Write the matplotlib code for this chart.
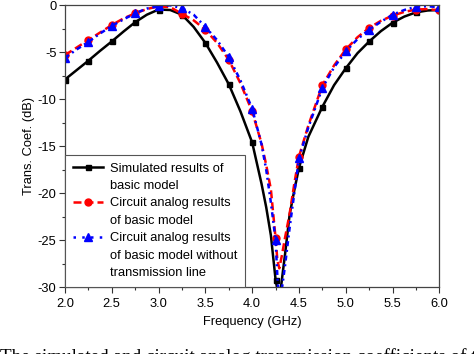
import numpy as np
import matplotlib
matplotlib.use("Agg")
import matplotlib.pyplot as plt
from matplotlib.lines import Line2D
from matplotlib.ticker import MultipleLocator

plt.rcParams['font.family'] = ['Liberation Sans', 'DejaVu Sans']
plt.rcParams['axes.unicode_minus'] = False

# Frequency points (GHz)
freq = np.array([2.0, 2.125, 2.25, 2.375, 2.5, 2.625, 2.75, 2.875, 3.0, 3.125,
                 3.25, 3.375, 3.5, 3.625, 3.75, 3.875, 4.0, 4.1, 4.15, 4.2,
                 4.25, 4.27, 4.29, 4.32, 4.35, 4.4, 4.45, 4.5, 4.6, 4.75,
                 4.875, 5.0, 5.125, 5.25, 5.375, 5.5, 5.625, 5.75, 5.875, 6.0])

# Simulated results of basic model
sim_basic = np.array([-7.9, -6.9, -5.9, -4.85, -3.85, -2.8, -1.8, -1.0, -0.45, -0.5,
                      -1.0, -2.3, -4.0, -6.1, -8.4, -11.3, -14.6, -19.0, -21.5, -24.5,
                      -29.2, -30.3, -31.5, -29.0, -26.6, -22.3, -19.7, -17.3, -14.0, -10.8,
                      -8.5, -6.7, -5.1, -3.85, -2.75, -1.85, -1.2, -0.75, -0.55, -0.5])

# Circuit analog results of basic model
circ_basic = np.array([-5.3, -4.5, -3.7, -2.9, -2.1, -1.4, -0.85, -0.4, -0.1, -0.2,
                       -0.9, -1.6, -2.6, -4.0, -5.8, -8.3, -11.3, -14.7, -17.0, -19.6,
                       -24.8, -27.2, -28.0, -26.5, -24.8, -22.2, -19.0, -16.1, -12.8, -8.5,
                       -6.4, -4.7, -3.4, -2.4, -1.65, -1.1, -0.7, -0.45, -0.4, -0.55])

# Circuit analog results of basic model without transmission line
circ_no_tl = np.array([-5.6, -4.7, -3.9, -3.0, -2.2, -1.5, -0.85, -0.35, -0.1, 0.0,
                       -0.3, -1.0, -2.3, -3.7, -5.5, -8.0, -11.0, -14.8, -17.5, -21.0,
                       -25.0, -29.0, -31.5, -30.0, -27.8, -23.7, -20.0, -16.3, -13.0, -8.8,
                       -6.6, -4.9, -3.6, -2.6, -1.75, -1.0, -0.5, -0.15, -0.1, -0.2])

# markers sit every 0.25 GHz
marks = list(np.where(np.isclose(freq * 4, np.round(freq * 4)))[0])

fig = plt.figure(figsize=(4.74, 3.54), dpi=100)
ax = fig.add_axes([0.137, 0.189, 0.79, 0.796])

ax.plot(freq, sim_basic, color='black', lw=1.8, marker='s', ms=3.6,
        markevery=marks)
ax.plot(freq, circ_basic, color='red', lw=1.8, ls=(0, (3.2, 1.6)), marker='o',
        ms=5, markevery=marks)
ax.plot(freq, circ_no_tl, color='blue', lw=1.8, ls=(0, (2.0, 1.5, 0.8, 1.5)),
        marker='^', ms=5.5, markevery=marks)

ax.set_xlim(2.0, 6.0)
ax.set_ylim(-30, 0)
ax.xaxis.set_major_locator(MultipleLocator(0.5))
ax.xaxis.set_minor_locator(MultipleLocator(0.25))
ax.yaxis.set_major_locator(MultipleLocator(5))
ax.yaxis.set_minor_locator(MultipleLocator(2.5))
ax.xaxis.set_major_formatter(matplotlib.ticker.FormatStrFormatter('%.1f'))
ax.tick_params(which='both', direction='out', colors='#333333', labelcolor='black',
               labelsize=9.3, width=0.8)
ax.tick_params(which='major', length=4)
ax.tick_params(axis='x', which='major', pad=4)
ax.tick_params(axis='y', which='major', pad=2)
ax.tick_params(which='minor', length=2.5)
for s in ax.spines.values():
    s.set_color('#444444')
    s.set_linewidth(0.9)

ax.set_xlabel('Frequency (GHz)', fontsize=9.3, labelpad=4)
ax.set_ylabel('Trans. Coef. (dB)', fontsize=9.3, labelpad=2)

blank = Line2D([], [], linestyle='none')
handles = [
    Line2D([], [], color='black', lw=1.8, marker='s', ms=3.6),
    blank,
    Line2D([], [], color='red', lw=1.8, ls=(0, (3.2, 1.6)), marker='o', ms=5),
    blank,
    Line2D([], [], color='blue', lw=1.8, ls=(0, (1.0, 2.5)), marker='^', ms=5.5),
    blank,
    blank,
]
labels = ['Simulated results of', 'basic model',
          'Circuit analog results', 'of basic model',
          'Circuit analog results', 'of basic model without', 'transmission line']
leg = ax.legend(handles, labels, loc='lower left', bbox_to_anchor=(0, 0),
                borderaxespad=0, fontsize=9.3, handlelength=2.33, handletextpad=0.52,
                borderpad=0.6, labelspacing=0.42, numpoints=1, fancybox=False,
                framealpha=1, edgecolor='#555555')
leg.get_frame().set_linewidth(0.8)

# caption, cut at the bottom edge like the source image
fig.text(0.0, -0.023, 'The simulated and circuit analog transmission coefficients of the',
         family='Liberation Serif', fontsize=13.8, va='baseline', ha='left')

fig.savefig('out.png', dpi=100)
